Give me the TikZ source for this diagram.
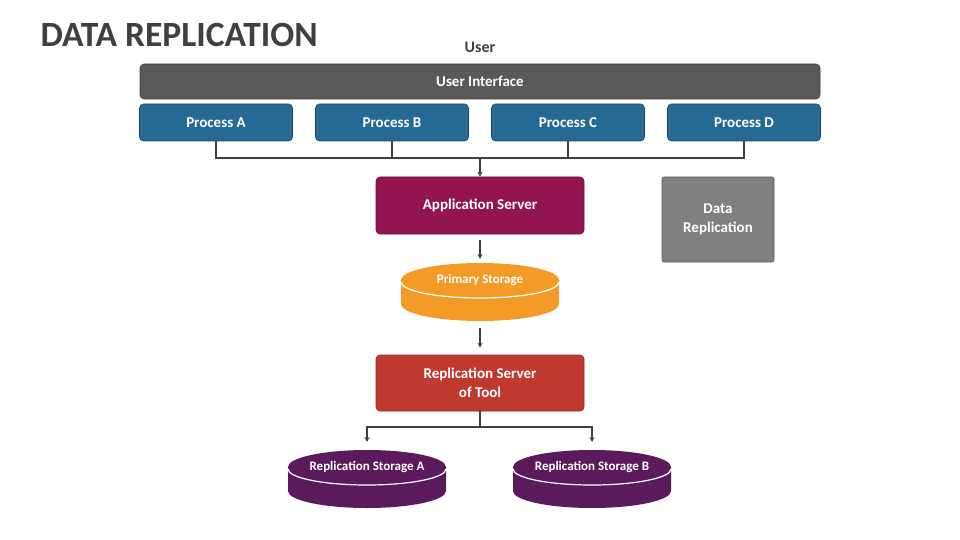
\documentclass[tikz,border=0pt]{standalone}
\usepackage{fontspec}
\setmainfont{Carlito}
\usetikzlibrary{arrows.meta,calc}
\definecolor{uibar}{HTML}{595959}
\definecolor{proc}{HTML}{266A93}
\definecolor{app}{HTML}{921550}
\definecolor{prim}{HTML}{F29C27}
\definecolor{repl}{HTML}{C0392F}
\definecolor{rst}{HTML}{5B1A5C}
\definecolor{dr}{HTML}{808080}
\definecolor{txt}{HTML}{404040}
\begin{document}
\begin{tikzpicture}[x=1pt,y=-1pt,
  box/.style={draw=#1!70!black,line width=0.6pt,fill=#1,rounded corners=4pt,text=white,font=\bfseries,align=center,inner sep=0pt},
  conn/.style={draw=txt,line width=1.2pt},
  arr/.style={conn,-{Stealth[length=5pt,width=5pt]}}]
\useasboundingbox (0,0) rectangle (960,540);
\node[anchor=west,text=txt,font=\bfseries\fontsize{35.5}{36}\selectfont] (title) at (37,35) {DATA REPLICATION};
\node[text=txt,font=\bfseries\fontsize{16}{16}\selectfont] (user) at (480,47) {User};
\node[box=uibar,minimum width=680pt,minimum height=35pt,font=\bfseries\fontsize{15}{15}\selectfont] (ui) at (480,81.5) {User Interface};
\foreach \n/\x in {A/216,B/392,C/568,D/744}
  \node[box=proc,minimum width=153pt,minimum height=37pt,font=\bfseries\fontsize{15}{15}\selectfont] (p\n) at (\x,122.5) {Process \n};
\node[box=app,minimum width=208pt,minimum height=57pt,font=\bfseries\fontsize{15}{15}\selectfont] (as) at (480,205.5) {Application Server};
\node[box=dr,minimum width=112pt,minimum height=85pt,rounded corners=2pt,font=\bfseries\fontsize{15}{19}\selectfont] (dr) at (718,219.5) {Data\\Replication};
\node[box=repl,minimum width=208pt,minimum height=56pt,font=\bfseries\fontsize{15}{19}\selectfont] (rs) at (480,383) {Replication Server\\of Tool};
\newcommand{\disc}[5]{%
  \fill[#3] (#1-79,#2) -- (#1-79,#2+24) arc[start angle=180,end angle=0,x radius=79,y radius=17] -- (#1+79,#2) -- cycle;
  \fill[#3] (#1,#2) ellipse[x radius=79,y radius=17];
  \draw[white,line width=1.2pt] (#1-79,#2+2) arc[start angle=180,end angle=0,x radius=79,y radius=16];
  \node[text=white,font=\bfseries\fontsize{13}{13}\selectfont,inner sep=0pt] (#4) at (#1,#2) {#5};
  \coordinate (#4t) at (#1,#2-19);
  \coordinate (#4b) at (#1,#2+41);
}
\disc{480}{280}{prim}{ps}{Primary Storage}
\disc{367}{467}{rst}{ra}{Replication Storage A}
\disc{592}{467}{rst}{rb}{Replication Storage B}
\coordinate (j) at (480,158);
\draw[conn] (pA.south) |- (j) -| (pD.south);
\draw[conn] (pB.south) -- (pB.south|-j);
\draw[conn] (pC.south) -- (pC.south|-j);
\draw[arr] (j) -- (as.north);
\draw[arr] ($(as.south)+(0,6)$) -- ($(pst)+(0,-2)$);
\draw[arr] ($(psb)+(0,7)$) -- ($(rs.north)+(0,-7)$);
\coordinate (k) at (480,427);
\draw[conn] (rs.south) -- (k);
\draw[arr] (k) -| ($(rat)+(0,-6)$);
\draw[arr] (k) -| ($(rbt)+(0,-6)$);
\end{tikzpicture}
\end{document}
